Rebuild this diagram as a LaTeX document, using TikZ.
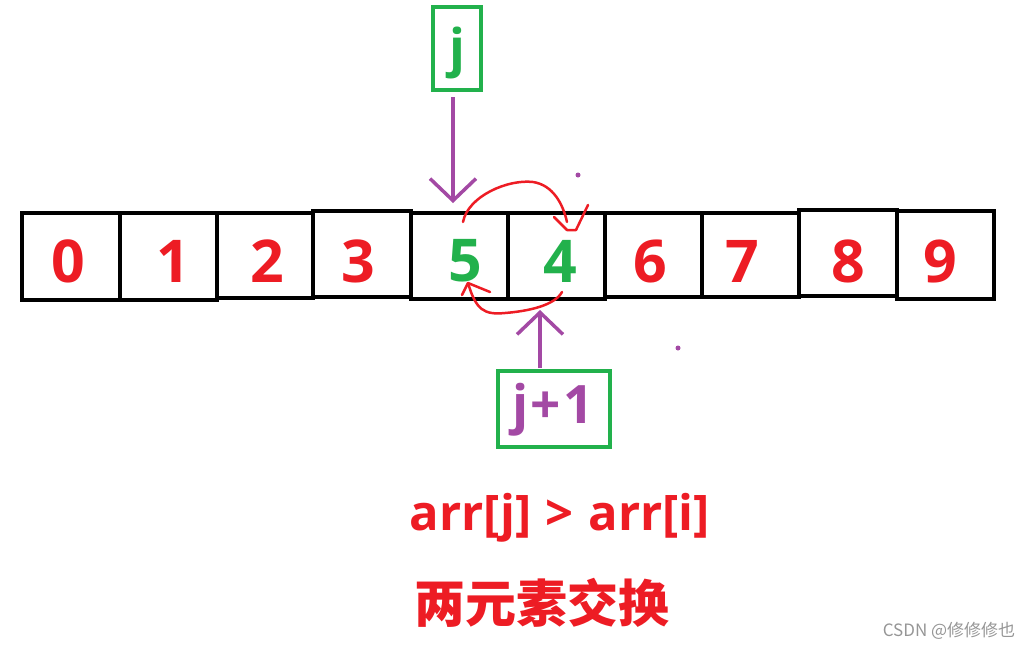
\documentclass[tikz,border=0pt]{standalone}
\usepackage{fontspec}
\setmainfont{Open Sans}
\newfontfamily\cjk{Noto Sans CJK SC}
\usetikzlibrary{arrows.meta}
\definecolor{cred}{RGB}{237,28,36}
\definecolor{cgreen}{RGB}{34,177,76}
\definecolor{cpurple}{RGB}{163,73,164}
\definecolor{wgray}{RGB}{150,150,150}
\begin{document}
\begin{tikzpicture}[x=1pt,y=-1pt,
  cellbox/.style={draw=black,line width=4pt,inner sep=0pt,outer sep=0pt},
  num/.style={text=cred,font=\fontsize{59}{62}\selectfont\bfseries,inner sep=0pt},
  gnum/.style={num,text=cgreen},
  lblbox/.style={draw=cgreen,line width=4pt,inner sep=0pt,outer sep=0pt},
  parrow/.style={draw=cpurple,line width=3.5pt,-{Straight Barb[length=22pt,width=46pt,line width=3.5pt]}},
  redline/.style={draw=cred,line width=2.5pt,line cap=round,line join=round},
  dot/.style={fill=cpurple,circle,inner sep=0pt,minimum size=5pt}
]
\useasboundingbox (0,0) rectangle (1033,649);
% cells
\foreach \l/\r/\t/\b/\n in {22/120/213/300/c0,120/217/213/300/c1,217/313/213/298/c2,313/411/211/297/c3,411/508/213/299/c4,508/605/213/299/c5,605/702/213/297/c6,702/799/213/297/c7,799/897/210/296/c8,897/994/211/299/c9}{
  \node[cellbox,minimum width={\r-\l},minimum height={\b-\t}] (\n) at ({(\l+\r)/2},{(\t+\b)/2}) {};
}
% digits
\node[num] (d0) at (68,261) {0};
\node[num] (d1) at (173,261) {1};
\node[num] (d2) at (267,261) {2};
\node[num] (d3) at (358,261) {3};
\node[gnum] (d4) at (465,261) {5};
\node[gnum] (d5) at (560,261) {4};
\node[num] (d6) at (650,261) {6};
\node[num] (d7) at (742,261) {7};
\node[num] (d8) at (848,261) {8};
\node[num] (d9) at (940,261) {9};
% label boxes
\node[lblbox,minimum width=48pt,minimum height=83pt] (jb) at (457,48.5) {};
\node[text=cgreen,font=\fontsize{52}{56}\selectfont\bfseries,inner sep=0pt] (jt) at (457,53) {j};
\node[lblbox,minimum width=112pt,minimum height=76pt] (jpb) at (554,409) {};
\node[text=cpurple,font=\fontsize{53}{56}\selectfont\bfseries,inner sep=0pt] (jpt) at (553,410) {j\hspace{0.05em}+\hspace{0.05em}1};
% purple arrows
\coordinate (a1s) at (453,97);
\coordinate (a1e) at (453,203);
\coordinate (a2s) at (540,368);
\coordinate (a2e) at (540,310);
\draw[parrow] (a1s) -- (a1e);
\draw[parrow] (a2s) -- (a2e);
% red swap curves
\coordinate (t0) at (463,222);
\coordinate (t1) at (533,182);
\coordinate (t2) at (567,222);
\draw[redline] (t0) .. controls (468,196) and (508,179) .. (t1) .. controls (553,185) and (563,204) .. (t2);
\coordinate (h1) at (554,217);
\coordinate (h2) at (567,230);
\coordinate (h3) at (576,230);
\coordinate (h4) at (588,205);
\draw[redline] (h1) -- (h2) -- (h3) -- (h4);
\coordinate (b0) at (562,292);
\coordinate (b1) at (505,313);
\coordinate (b2) at (468,283);
\draw[redline] (b0) .. controls (555,305) and (530,311) .. (b1) .. controls (484,315) and (476,310) .. (b2);
\coordinate (g1) at (462,295);
\coordinate (g2) at (490,292);
\draw[redline] (g1) -- (b2) -- (g2);
% dots
\node[dot] (p1) at (578,175) {};
\node[dot] (p2) at (678,348) {};
% texts
\node[text=cred,font=\fontsize{49}{52}\selectfont\bfseries,inner sep=0pt] (cond) at (560,518) {arr[j]\hspace{0.3em}>\hspace{0.3em}arr[i]};
\node[text=cred,font=\cjk\fontsize{51}{55}\selectfont\bfseries,inner sep=0pt] (swap) at (542,603) {两元素交换};
\node[text=wgray,font=\cjk\fontsize{17}{20}\selectfont,inner sep=0pt] (wm) at (949,631) {CSDN @修修修也};
\end{tikzpicture}
\end{document}
